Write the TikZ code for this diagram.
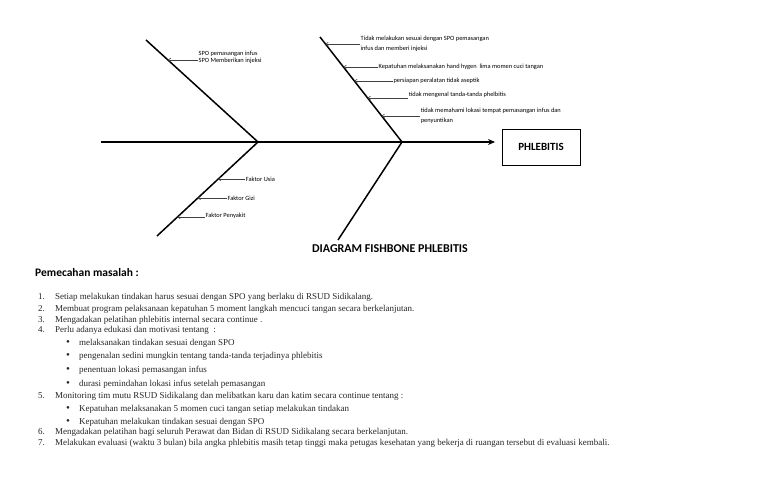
\documentclass[tikz,border=0pt]{standalone}
\usepackage{fontspec}
\setmainfont{Liberation Serif}
\newfontfamily\calibri{Carlito}
\usetikzlibrary{arrows.meta,positioning}
\begin{document}
\begin{tikzpicture}[x=1pt,y=-1pt,
  bone/.style={line width=1.5pt},
  sub/.style={-{To[length=3pt,width=4pt]},black!75,line width=0.6pt},
  cause/.style={font=\calibri\fontsize{6.4}{10.3}\selectfont,align=left,inner sep=0.5pt},
  item/.style={anchor=base west,inner sep=0pt,font=\fontsize{9}{10}\selectfont,text=black!85}]
  \useasboundingbox (0,0) rectangle (768,503);
  % fish skeleton
  \coordinate (tail) at (101,142);
  \coordinate (head) at (495,142);
  \coordinate (j1) at (258,142);
  \coordinate (j2) at (402,142);
  \coordinate (ul) at (146,40);
  \coordinate (ll) at (157,236);
  \coordinate (ur) at (320,37);
  \coordinate (lr) at (338,240);
  \node[draw,line width=0.9pt,minimum width=78pt,minimum height=36pt,
    font=\calibri\bfseries\fontsize{11}{12}\selectfont] (effect) at (541,147) {PHLEBITIS};
  \draw[bone,-{Stealth[length=7pt,width=6pt]}] (tail) -- (head);
  \draw[bone] (ul) -- (j1) -- (ll);
  \draw[bone] (ur) -- (j2) -- (lr);
  \path (ul) -- (j1) coordinate[pos=.196] (t1);
  \path (ur) -- (j2) coordinate[pos=.067] (t2) coordinate[pos=.286] (t3)
    coordinate[pos=.419] (t4) coordinate[pos=.581] (t5) coordinate[pos=.752] (t6);
  \path (j1) -- (ll) coordinate[pos=.394] (t7) coordinate[pos=.596] (t8) coordinate[pos=.798] (t9);
  % causes
  \node[cause,right=30pt of t1,yshift=2.5pt] (c1) {SPO pemasangan infus\\[-3.3pt]SPO Memberikan injeksi};
  \node[cause,right=34.5pt of t2] (c2) {Tidak melakukan sesuai dengan SPO pemasangan\\infus dan memberi injeksi};
  \node[cause,right=34.5pt of t3] (c3) {Kepatuhan melaksanakan hand hygen~ lima momen cuci tangan};
  \node[cause,right=38.5pt of t4] (c4) {persiapan peralatan tidak aseptik};
  \node[cause,right=40.5pt of t5,anchor=south west] (c5) {tidak mengenal tanda-tanda phelbitis};
  \node[cause,right=38.5pt of t6] (c6) {tidak memahami lokasi tempat pemasangan infus dan\\penyuntikan};
  \node[cause,right=27pt of t7] (c7) {Faktor Usia};
  \node[cause,right=29pt of t8] (c8) {Faktor Gizi};
  \node[cause,right=27.5pt of t9,yshift=1.5pt] (c9) {Faktor Penyakit};
  \draw[sub] (c1.west |- t1) -- (t1);
  \foreach \i in {2,3,4,6,7,8} \draw[sub] (c\i.west) -- (t\i);
  \draw[sub] (c9.west |- t9) -- (t9);
  \draw[sub] (c5.south west) -- (t5);
  \node[font=\calibri\bfseries\fontsize{12}{14}\selectfont] (title) at (390,249) {DIAGRAM FISHBONE PHLEBITIS};
  % solutions
  \node[anchor=west,inner sep=0pt,font=\calibri\bfseries\fontsize{11.5}{13}\selectfont] (sol) at (35,273) {Pemecahan masalah :};
  \foreach \i/\y/\t in {1/296/{Setiap melakukan tindakan harus sesuai dengan SPO yang berlaku di RSUD Sidikalang.},
    2/308/{Membuat program pelaksanaan kepatuhan 5 moment langkah mencuci tangan secara berkelanjutan.},
    3/319/{Mengadakan pelatihan phlebitis internal secara continue .},
    4/329.5/{Perlu adanya edukasi dan motivasi tentang \ :},
    5/395/{Monitoring tim mutu RSUD Sidikalang dan melibatkan karu dan katim secara continue tentang :},
    6/431.5/{Mengadakan pelatihan bagi seluruh Perawat dan Bidan di RSUD Sidikalang secara berkelanjutan.},
    7/442/{Melakukan evaluasi (waktu 3 bulan) bila angka phlebitis masih tetap tinggi maka petugas kesehatan yang bekerja di ruangan tersebut di evaluasi kembali.}}
  {
    \node[item] (num\i) at (38,\y+3) {\i.};
    \node[item] (line\i) at (55,\y+3) {\t};
  }
  \foreach \i/\y/\t in {a/342.5/{melaksanakan tindakan sesuai dengan SPO},
    b/355.5/{pengenalan sedini mungkin tentang tanda-tanda terjadinya phlebitis},
    c/369/{penentuan lokasi pemasangan infus},
    d/383/{durasi pemindahan lokasi infus setelah pemasangan},
    e/408/{Kepatuhan melaksanakan 5 momen cuci tangan setiap melakukan tindakan},
    f/421/{Kepatuhan melakukan tindakan sesuai dengan SPO}}
  {
    \node[item,font=\fontsize{11}{10}\selectfont] (dot\i) at (66,\y+3) {\textbullet};
    \node[item] (bul\i) at (79,\y+3) {\t};
  }
\end{tikzpicture}
\end{document}
